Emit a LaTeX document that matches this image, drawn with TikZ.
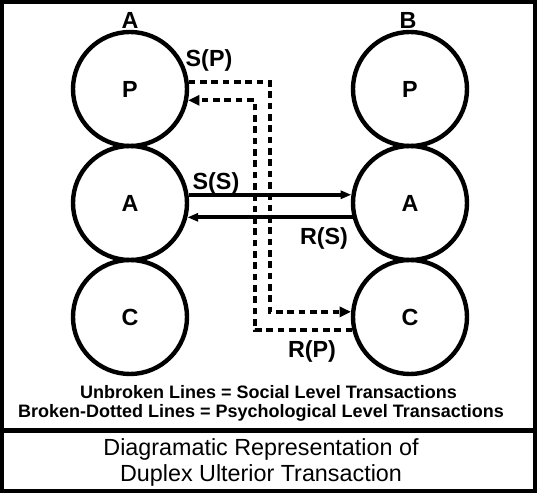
\documentclass[tikz,border=0pt]{standalone}
\usepackage{fontspec}
\setmainfont{Liberation Sans}
\usetikzlibrary{arrows.meta}
\tikzset{
	ego/.style={circle,draw,line width=3.3pt,minimum size=85.5pt,inner sep=0pt,font=\fontsize{17.5}{20}\selectfont\bfseries},
	lbl/.style={font=\fontsize{17.5}{20}\selectfont\bfseries,inner sep=0pt},
	social/.style={line width=3pt,-{Triangle[length=8pt,width=6pt]}},
	psych/.style={line width=3.2pt,dash pattern=on 5pt off 3.5pt,-{Triangle[length=8.5pt,width=7.5pt]}}
}
\begin{document}
\begin{tikzpicture}[x=0.75pt,y=-0.75pt]
	\useasboundingbox (0,0) rectangle (537,495);
	\draw[line width=3pt] (2,2) rectangle (534.5,491.3);
	\draw[line width=3.75pt] (2,430.5)--(534.5,430.5);
	% ego states of A and B
	\node[ego] (lp) at (130,89) {P};
	\node[ego] (la) at (130,203) {A};
	\node[ego] (lc) at (130,317) {C};
	\node[ego] (rp) at (410,89) {P};
	\node[ego] (ra) at (410,203) {A};
	\node[ego] (rc) at (410,317) {C};
	\node[lbl] (na) at (130,20) {A};
	\node[lbl] (nb) at (408,20) {B};
	% social level
	\draw[social] (la.8)--(ra.172);
	\draw[social] (ra.194.2)--(la.-14.2);
	\node[lbl] (ss) at (216,183) {S(S)};
	\node[lbl] (rs) at (324,238) {R(S)};
	% psychological level
	\coordinate (spx) at (270,0);
	\coordinate (rpx) at (255,0);
	\draw[psych] (lp.7) -| (spx |- rc.175) -- (rc.175);
	\draw[psych] (rc.193.2) -| (rpx |- lp.-11.1) -- (lp.-11.1);
	\node[lbl] (sp) at (209,60) {S(P)};
	\node[lbl] (rp2) at (312,351) {R(P)};
	% legend and caption
	\node[font=\fontsize{13.5}{16}\selectfont\bfseries,inner sep=0pt] (leg1) at (268.5,392) {Unbroken Lines = Social Level Transactions};
	\node[font=\fontsize{13.5}{16}\selectfont\bfseries,inner sep=0pt] (leg2) at (261,413) {Broken-Dotted Lines = Psychological Level Transactions};
	\node[font=\fontsize{17.5}{20}\selectfont,inner sep=0pt] (cap1) at (261,449) {Diagramatic Representation of};
	\node[font=\fontsize{17.5}{20}\selectfont,inner sep=0pt] (cap2) at (261,475) {Duplex Ulterior Transaction};
\end{tikzpicture}
\end{document}
